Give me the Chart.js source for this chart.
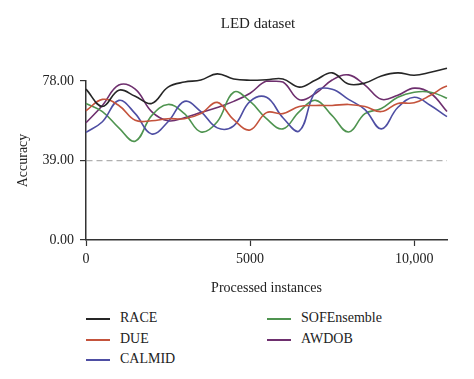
<!DOCTYPE html>
<html>
<head>
<meta charset="utf-8">
<script src="https://cdn.jsdelivr.net/npm/chart.js@4.4.1/dist/chart.umd.min.js"></script>
<style>
  body { margin: 0; background: #fff; }
  #wrap { position: relative; width: 474px; height: 379px; font-family: "Liberation Serif", "DejaVu Serif", serif; color: #222; }
  #chartTitle { position: absolute; left: 0; width: 516px; top: 15px; text-align: center; font-size: 15px; }
  #legend .item { position: absolute; font-size: 14px; line-height: 16px; white-space: nowrap; }
  #legend .swatch { position: absolute; display: block; width: 24px; height: 2px; top: 8px; left: 0; }
  #legend .label { position: absolute; left: 34px; top: 0; }
</style>
</head>
<body>
<div id="wrap">
  <canvas id="accChart" width="474" height="302"></canvas>
  <div id="chartTitle">LED dataset</div>
  <div id="legend"></div>
</div>
<script>
// processed instances (x) shared by every series
const instances = [0, 500, 1000, 1500, 2000, 2500, 3000, 3500, 4000, 4500, 5000, 5500,
  6000, 6500, 7000, 7500, 8000, 8500, 9000, 9500, 10000, 10500, 11000, 11150];

const race = [74, 65.5, 73.5, 70.5, 67, 75, 77.5, 78.5, 81.5, 79, 78.4, 78.6,
  79, 75, 78.5, 82, 76.5, 77, 80.5, 82, 80.8, 82.3, 84.3, 84.8];
const due = [63.4, 69, 66, 58.7, 58.5, 59.5, 59.5, 62, 67.5, 59, 54, 62.5,
  62, 65.5, 66, 66, 66.5, 65.5, 63, 67, 67.3, 71, 75.5, 73.8];
const calmid = [52.8, 58, 68.5, 62, 52, 58, 68, 63, 55, 56, 68, 70,
  60, 53.5, 73, 74, 69, 64, 54.5, 65, 70, 66, 60.5, 59.3];
const sofEnsemble = [67, 63, 55, 48.5, 61, 66.5, 62, 53, 58, 72.5, 68, 59.5,
  54.5, 63, 68.5, 61, 53, 62, 64.5, 70, 72.5, 72.5, 69.5, 67.5];
const awdob = [57.5, 66, 76, 74, 63, 58.5, 60, 62.5, 65, 68, 72, 78,
  77.5, 68.8, 72, 78.5, 81, 76, 69, 71, 74.5, 72, 63, 60];

const yTicks = [0, 39, 78];
const xTicks = [0, 5000, 10000];

const series = [
  { label: 'RACE', data: race, color: '#262626' },
  { label: 'DUE', data: due, color: '#c4533c' },
  { label: 'CALMID', data: calmid, color: '#4e4ea3' },
  { label: 'SOFEnsemble', data: sofEnsemble, color: '#4f9450' },
  { label: 'AWDOB', data: awdob, color: '#6e2f6e' }
];

const font = { family: '"Liberation Serif", "DejaVu Serif", serif', size: 14 };

const ctx = document.getElementById('accChart').getContext('2d');
const chart = new Chart(ctx, {
  type: 'line',
  data: {
    datasets: series.map(s => ({
      label: s.label,
      data: s.data.map((v, i) => ({ x: instances[i], y: v })),
      borderColor: s.color,
      borderWidth: 1.6,
      pointRadius: 0,
      fill: false,
      tension: 0.4,
      clip: false
    }))
  },
  options: {
    responsive: false,
    animation: false,
    layout: { padding: { top: 81, right: 27, left: 0, bottom: 0 } },
    plugins: {
      legend: { display: false },
      tooltip: { enabled: false },
      title: { display: false }
    },
    scales: {
      x: {
        type: 'linear',
        min: 0,
        max: 11000,
        afterBuildTicks: s => { s.ticks = xTicks.map(v => ({ value: v })); },
        afterFit: s => { s.height = 62; },
        ticks: {
          color: '#222',
          font: font,
          padding: 5,
          maxRotation: 0,
          callback: v => v >= 10000 ? v.toLocaleString('en-US') : String(v)
        },
        grid: { drawOnChartArea: false, drawTicks: true, tickLength: 6, tickColor: '#333', tickWidth: 1.2 },
        border: { color: '#333', width: 1.5 },
        title: { display: true, text: 'Processed instances', color: '#222', font: font, padding: { top: 0, bottom: 5 } }
      },
      y: {
        min: 0,
        max: 78,
        afterBuildTicks: s => { s.ticks = yTicks.map(v => ({ value: v })); },
        afterFit: s => { s.width = 86; },
        ticks: {
          color: '#222',
          font: font,
          padding: 6,
          callback: v => Number(v).toFixed(2)
        },
        grid: {
          drawOnChartArea: true,
          color: c => (c.tick && c.tick.value === 39) ? '#b0b0b0' : 'rgba(0,0,0,0)',
          lineWidth: 1.2,
          drawTicks: true,
          tickLength: 6,
          tickColor: '#333',
          tickWidth: 1.2
        },
        border: { color: '#333', width: 1.5, dash: [6, 4] },
        title: { display: true, text: 'Accuracy', color: '#222', font: font, padding: { top: 15, bottom: 0 } }
      }
    }
  }
});

// two-column legend under the chart
const legendPos = [
  { col: 86, row: 310 }, { col: 86, row: 331 }, { col: 86, row: 351 },
  { col: 267, row: 310 }, { col: 267, row: 331 }
];
const legend = document.getElementById('legend');
series.forEach((s, i) => {
  const item = document.createElement('div');
  item.className = 'item';
  item.style.left = legendPos[i].col + 'px';
  item.style.top = legendPos[i].row + 'px';
  const sw = document.createElement('span');
  sw.className = 'swatch';
  sw.style.background = s.color;
  const lb = document.createElement('span');
  lb.className = 'label';
  lb.textContent = s.label;
  item.appendChild(sw);
  item.appendChild(lb);
  legend.appendChild(item);
});
</script>
</body>
</html>
